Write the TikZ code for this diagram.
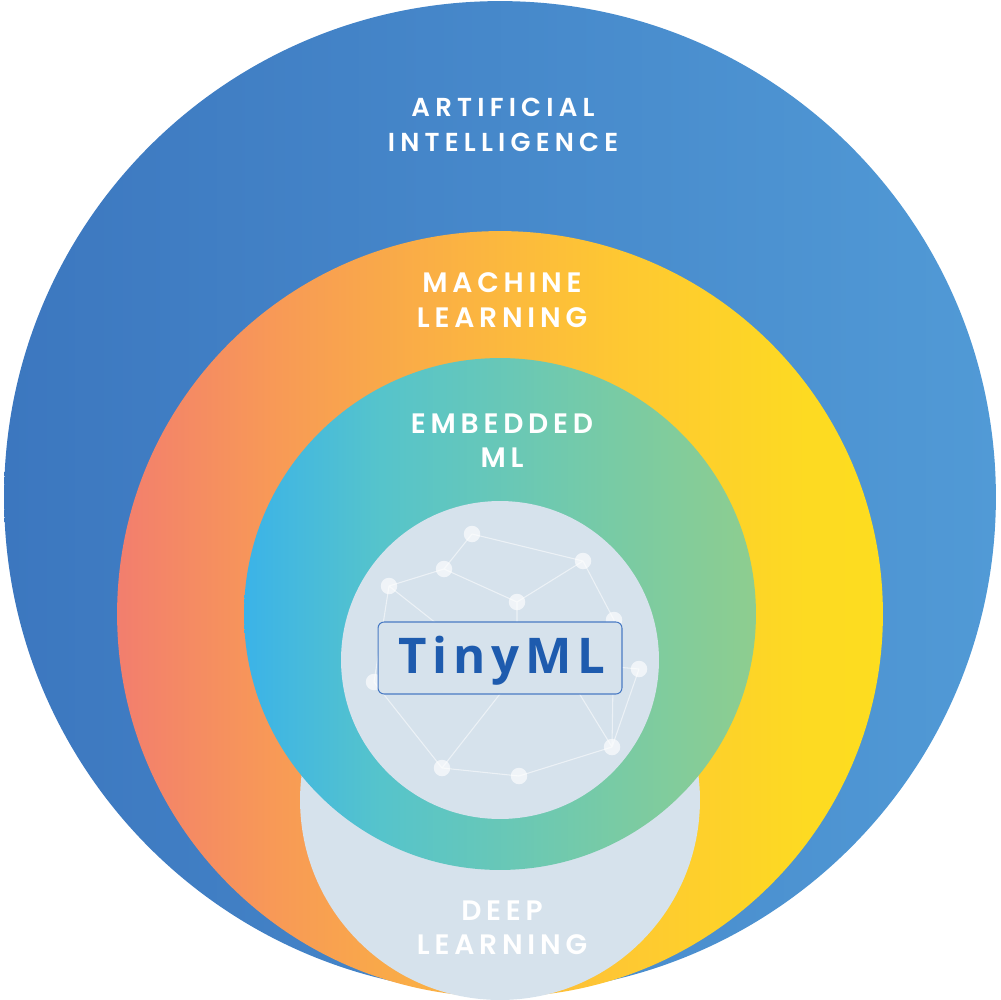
\documentclass[tikz,border=0pt]{standalone}
\usepackage{fontspec}
\IfFontExistsTF{Poppins SemiBold}%
  {\newfontfamily\lblfam{Poppins SemiBold}[LetterSpace=17]\newfontfamily\lblfamA{Poppins SemiBold}[LetterSpace=20]%
   \newcommand\lblfnt{\lblfam}\newcommand\lblfntA{\lblfamA}}%
  {\newfontfamily\lblfam{Poppins}[LetterSpace=17]\newfontfamily\lblfamA{Poppins}[LetterSpace=20]%
   \newcommand\lblfnt{\lblfam\bfseries}\newcommand\lblfntA{\lblfamA\bfseries}}
\newfontfamily\tinyfam{Open Sans}[LetterSpace=12]
\definecolor{blueL}{HTML}{3C77BF}
\definecolor{blueR}{HTML}{519AD6}
\definecolor{orA}{HTML}{F27E6E}
\definecolor{orB}{HTML}{F89A56}
\definecolor{orC}{HTML}{F9A84A}
\definecolor{orD}{HTML}{FEC832}
\definecolor{orE}{HTML}{FDDA22}
\definecolor{orF}{HTML}{FDDD1F}
\definecolor{grA}{HTML}{3BB3E8}
\definecolor{grB}{HTML}{56C4CB}
\definecolor{grC}{HTML}{79CBA4}
\definecolor{grD}{HTML}{8ECD8F}
\definecolor{pale}{HTML}{D6E2EC}
\definecolor{tinyblue}{HTML}{1E5BAE}
\definecolor{boxline}{HTML}{4A7BC4}
\pgfdeclarehorizontalshading{blueshade}{100bp}{color(0bp)=(blueL); color(25bp)=(blueL); color(75bp)=(blueR); color(100bp)=(blueR)}
\pgfdeclarehorizontalshading{orangeshade}{100bp}{color(0bp)=(orA); color(25bp)=(orA); color(35.5bp)=(orB); color(42bp)=(orC); color(58bp)=(orD); color(70bp)=(orE); color(75bp)=(orF); color(100bp)=(orF)}
\pgfdeclarehorizontalshading{greenshade}{100bp}{color(0bp)=(grA); color(25bp)=(grA); color(38.5bp)=(grB); color(61.5bp)=(grC); color(75bp)=(grD); color(100bp)=(grD)}
\begin{document}
\begin{tikzpicture}[x=0.02cm,y=-0.02cm,
  dot/.style={circle,fill=white,fill opacity=0.65,inner sep=0pt,minimum size=0.33cm},
  link/.style={draw=white,draw opacity=0.55,line width=0.6pt},
  lblA/.style={text=white,font=\lblfntA\fontsize{14.8}{17}\selectfont,anchor=base,inner sep=0pt},
  lblB/.style={text=white,font=\lblfnt\fontsize{16}{18}\selectfont,anchor=base,inner sep=0pt},
  tinybox/.style={draw=boxline,line width=0.6pt,fill=pale,rounded corners=3.5pt,minimum width=4.88cm,minimum height=1.44cm,inner sep=0pt},
]
\useasboundingbox (0,0) rectangle (1000,1000);
% circles
\path[shading=blueshade] (500,497) circle[radius=9.92cm];
\path[shading=orangeshade] (500,614) circle[radius=7.66cm];
\path[fill=pale] (500,800) circle[radius=4cm];
\path[shading=greenshade] (500,614) circle[radius=5.12cm];
\path[fill=pale] (500,660) circle[radius=3.18cm];
% network points
\coordinate (m1) at (470,650);
\coordinate (m2) at (517,650);
\coordinate (m3) at (560,662);
\coordinate (m4) at (525,662);
\coordinate (pa) at (472,534);
\coordinate (pb) at (444,569);
\coordinate (pc) at (389,586);
\coordinate (pd) at (517,602);
\coordinate (pe) at (583,561);
\coordinate (pf) at (614,620);
\coordinate (pg) at (639,669);
\coordinate (ph) at (612,747);
\coordinate (pi) at (519,776);
\coordinate (pj) at (442,768);
\coordinate (pk) at (374,682);
% links
\path[link] (pa) -- (pb) (pa) -- (pe)
  (pb) -- (pc) (pb) -- (pd) (pd) -- (pe)
  (pe) -- (pf) (pc) -- (pk) (pc) -- (m1)
  (pd) -- (m2) (pf) -- (ph) (pg) -- (ph)
  (pg) -- (m3) (ph) -- (m3) (pk) -- (pj)
  (pj) -- (pi) (pi) -- (ph) (pj) -- (m4);
% dots
\node[dot] (na) at (pa) {};
\node[dot] (nb) at (pb) {};
\node[dot] (nc) at (pc) {};
\node[dot] (nd) at (pd) {};
\node[dot] (ne) at (pe) {};
\node[dot] (nf) at (pf) {};
\node[dot] (ng) at (pg) {};
\node[dot] (nh) at (ph) {};
\node[dot] (ni) at (pi) {};
\node[dot] (nj) at (pj) {};
\node[dot] (nk) at (pk) {};
% TinyML box
\node[tinybox] (box) at (500,658) {};
\node[text=tinyblue,font=\tinyfam\bfseries\fontsize{28}{30}\selectfont,anchor=base,inner sep=0pt] (tiny) at (502,673) {TinyML};
% labels
\node[lblA] (ai1) at (503,117) {ARTIFICIAL};
\node[lblA] (ai2) at (503,152) {INTELLIGENCE};
\node[lblB] (ml1) at (502,292) {MACHINE};
\node[lblB] (ml2) at (502,327) {LEARNING};
\node[lblB] (em1) at (502,433) {EMBEDDED};
\node[lblB] (em2) at (502,467) {ML};
\node[lblB] (dl1) at (502,920) {DEEP};
\node[lblB] (dl2) at (502,954) {LEARNING};
\end{tikzpicture}
\end{document}
